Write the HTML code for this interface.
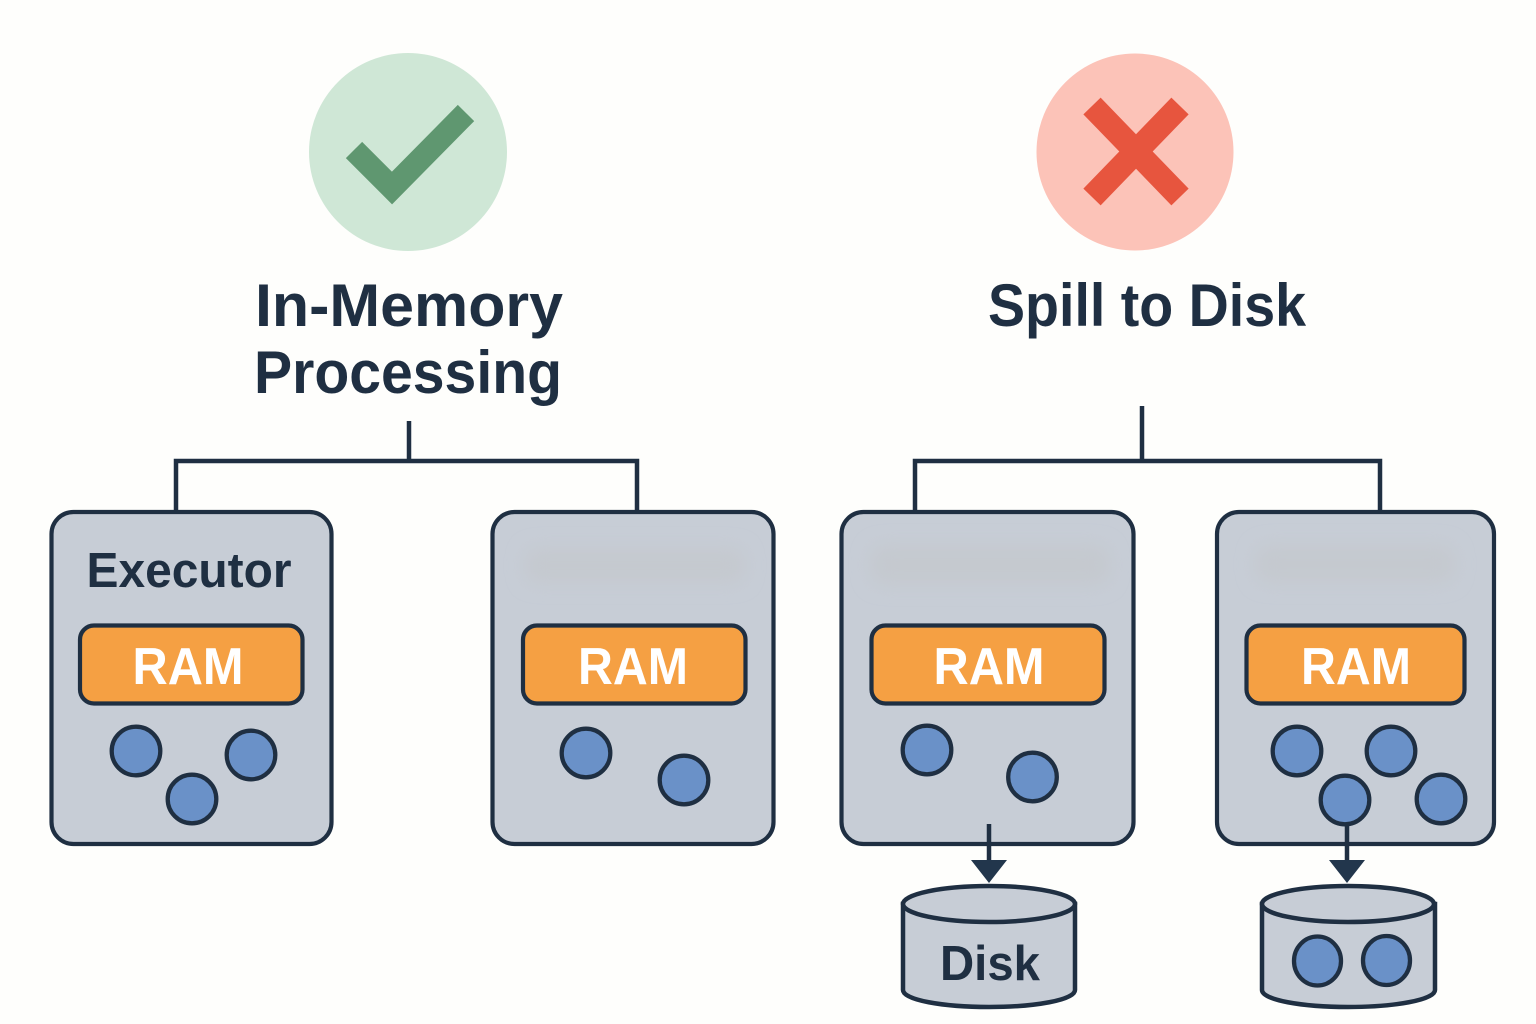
<!DOCTYPE html>
<html><head><meta charset="utf-8"><style>
html,body{margin:0;padding:0;background:#fefefc;width:1536px;height:1024px;overflow:hidden}
svg{display:block}
text{font-family:"Liberation Sans",sans-serif;font-weight:700}
</style></head><body>
<svg width="1536" height="1024" viewBox="0 0 1536 1024">
<defs><filter id="b" x="-20%" y="-60%" width="140%" height="220%"><feGaussianBlur stdDeviation="9"/></filter></defs>
<rect width="1536" height="1024" fill="#fefefc"/>
<circle cx="408" cy="152" r="99" fill="#cfe7d6"/>
<polyline points="354,150 392,188 466,113" fill="none" stroke="#5f9770" stroke-width="23"/>
<circle cx="1135" cy="152" r="98.500" fill="#fcc3b8"/>
<path d="M1092,106L1180,197M1180,106L1092,197" fill="none" stroke="#e7553e" stroke-width="24"/>
<g fill="#1f2f42" stroke="none">
<text x="409" y="326" font-size="60" text-anchor="middle" textLength="308" lengthAdjust="spacingAndGlyphs">In-Memory</text>
<text x="408" y="393" font-size="60" text-anchor="middle" textLength="308" lengthAdjust="spacingAndGlyphs">Processing</text>
<text x="1147" y="326" font-size="60" text-anchor="middle" textLength="318" lengthAdjust="spacingAndGlyphs">Spill to Disk</text>
</g>
<g fill="none" stroke="#1f2f42" stroke-width="4.5">
<path d="M409,421V461M176,512V461H637V512"/>
<path d="M1142,406V461M915,512V461H1380V512"/>
</g>
<g fill="#c7cdd6" stroke="#1f2f42" stroke-width="4.2">
<rect x="51.500" y="512" width="280" height="332" rx="22"/>
<rect x="492.500" y="512" width="281" height="332" rx="22"/>
<rect x="841.500" y="512" width="292" height="332" rx="22"/>
<rect x="1217" y="512" width="277" height="332" rx="22"/>
</g>
<g fill="#c5c9cf" filter="url(#b)">
<rect x="525" y="548" width="220" height="35" rx="12"/>
<rect x="870" y="545" width="240" height="40" rx="14"/>
<rect x="1255" y="545" width="200" height="38" rx="14"/>
</g>
<text x="189" y="587" font-size="49" fill="#1f2f42" text-anchor="middle" textLength="205" lengthAdjust="spacingAndGlyphs">Executor</text>
<g fill="#f5a043" stroke="#1f2f42" stroke-width="4.2">
<rect x="80" y="625.500" width="222.500" height="78" rx="14"/>
<rect x="523" y="625.500" width="222.500" height="78" rx="14"/>
<rect x="871.500" y="625.500" width="233" height="78" rx="14"/>
<rect x="1246.500" y="625.500" width="218" height="78" rx="14"/>
</g>
<g fill="#ffffff" font-size="52" text-anchor="middle">
<text x="188" y="684" textLength="111" lengthAdjust="spacingAndGlyphs">RAM</text>
<text x="633" y="684" textLength="110" lengthAdjust="spacingAndGlyphs">RAM</text>
<text x="989" y="684" textLength="111" lengthAdjust="spacingAndGlyphs">RAM</text>
<text x="1356" y="684" textLength="110" lengthAdjust="spacingAndGlyphs">RAM</text>
</g>
<g fill="none" stroke="#1f2f42" stroke-width="4.5">
<path d="M989,824V862M1347,824V862"/>
</g>
<g fill="#22364c">
<polygon points="971,860 1007,860 989,883"/>
<polygon points="1329,860 1365,860 1347,883"/>
</g>
<g fill="#6a91c8" stroke="#1f2f42" stroke-width="4.3">
<circle cx="136" cy="751" r="24.300"/><circle cx="251" cy="755" r="24.300"/><circle cx="192" cy="799" r="24.300"/>
<circle cx="586" cy="753" r="24.300"/><circle cx="684" cy="780" r="24.300"/>
<circle cx="927" cy="750" r="24.300"/><circle cx="1032.500" cy="777" r="24.300"/>
<circle cx="1297" cy="751" r="24.300"/><circle cx="1391" cy="751" r="24.300"/><circle cx="1345" cy="800" r="24.300"/><circle cx="1441" cy="799" r="24.300"/>
</g>
<g fill="#c7cdd6" stroke="#1f2f42" stroke-width="4.5">
<path d="M903,904V990C903,1000 943,1007 989,1007C1035,1007 1075,1000 1075,990V904Z"/>
<ellipse cx="989" cy="904" rx="86" ry="18"/>
<path d="M1262,904V990C1262,1000 1302,1007 1348,1007C1394,1007 1435,1000 1435,990V904Z"/>
<ellipse cx="1348" cy="904" rx="86" ry="18"/>
</g>
<text x="990" y="980" font-size="49" fill="#1f2f42" text-anchor="middle" textLength="100" lengthAdjust="spacingAndGlyphs">Disk</text>
<g fill="#6a91c8" stroke="#1f2f42" stroke-width="4.3">
<ellipse cx="1317.500" cy="961" rx="23.500" ry="24.500"/><ellipse cx="1386.500" cy="960.500" rx="23.500" ry="24.500"/>
</g>
</svg>
</body></html>
